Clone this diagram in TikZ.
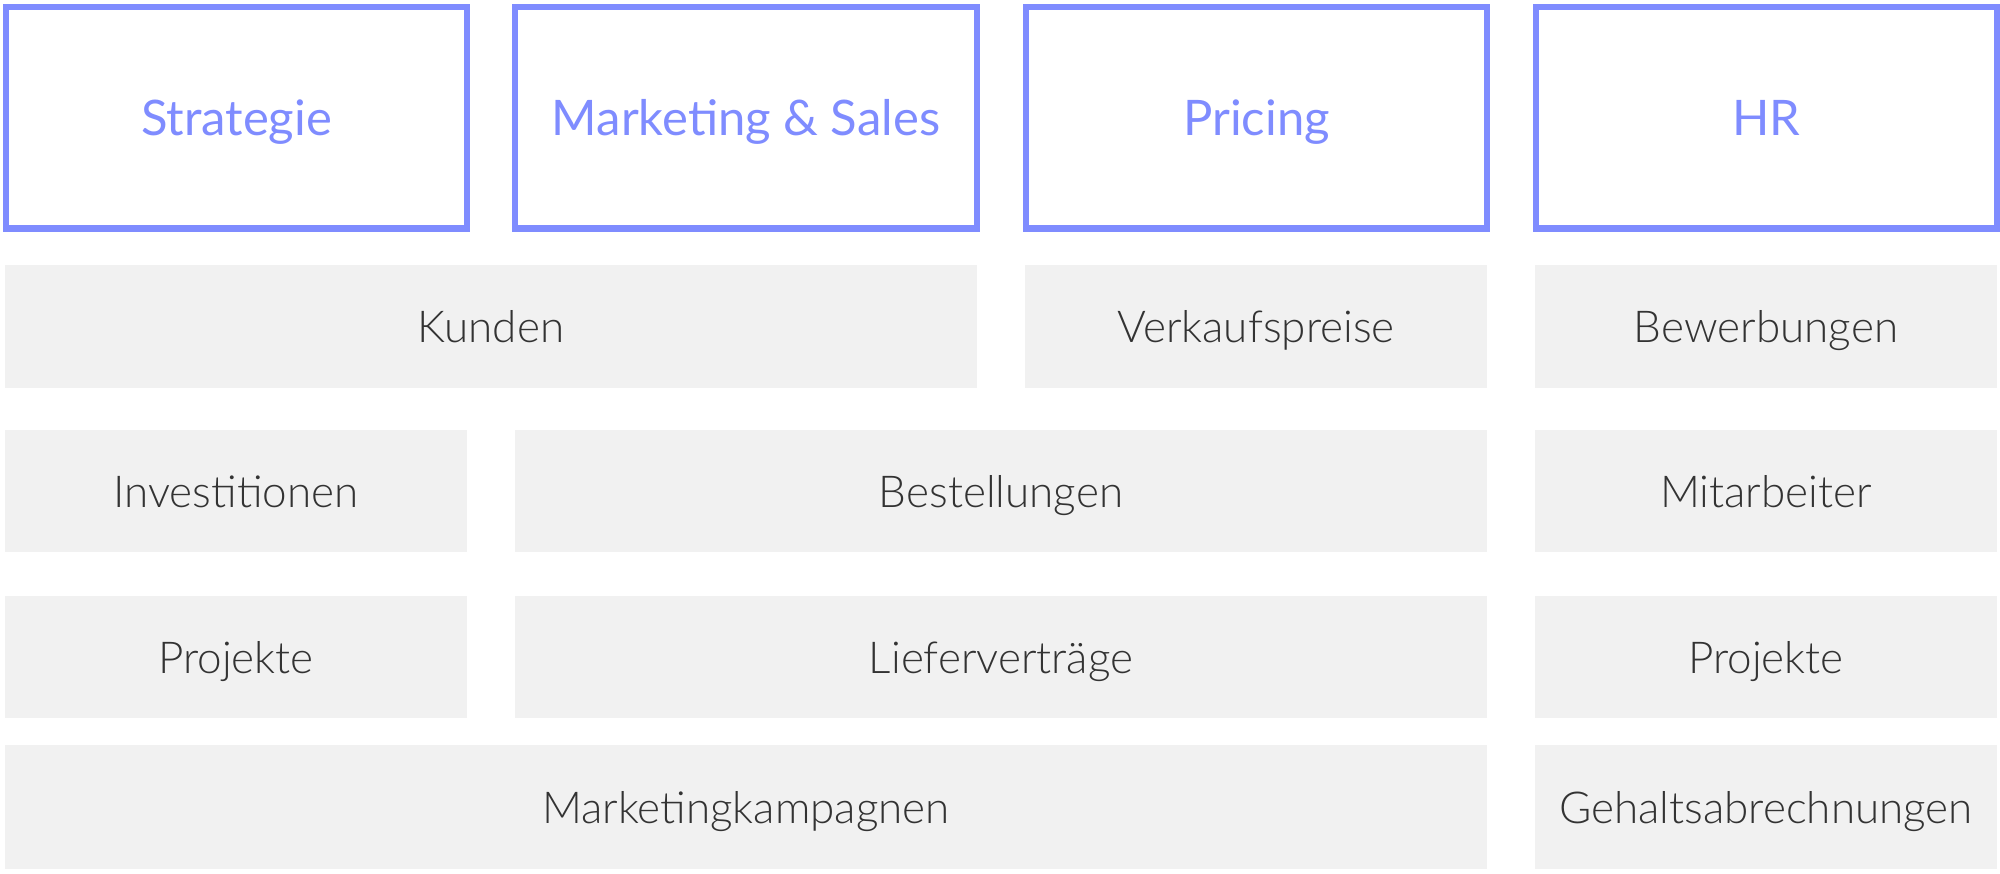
\documentclass[tikz,border=0pt]{standalone}
\usepackage{fontspec}
\IfFontExistsTF{Lato Light}{\newfontfamily\lightfont{Lato Light}}{\newfontfamily\lightfont{Lato}}
\newfontfamily\regfont{Lato}
\definecolor{hdrblue}{RGB}{127,140,255}
\definecolor{cellgray}{RGB}{241,241,241}
\definecolor{celltext}{RGB}{51,51,51}
\tikzset{
  hdr/.style={draw=hdrblue, line width=6.5pt, fill=white, inner sep=0pt, outer sep=0pt,
    text=hdrblue, font=\regfont\fontsize{49}{55}\selectfont, text height=35pt, text depth=0pt},
  cell/.style={fill=cellgray, draw=none, inner sep=0pt, outer sep=0pt,
    text=celltext, font=\lightfont\fontsize{44}{50}\selectfont, text height=32pt, text depth=0pt},
}
\begin{document}
\begin{tikzpicture}[x=1pt,y=-1pt]
\useasboundingbox (0,0) rectangle (2000,873);
% headers
\node[hdr, minimum width=461pt, minimum height=221.5pt] (strategie) at (236.5,117.75) {Strategie};
\node[hdr, minimum width=462pt, minimum height=221.5pt] (marketing) at (746,117.75) {Marketing \& Sales};
\node[hdr, minimum width=461pt, minimum height=221.5pt] (pricing) at (1256.5,117.75) {Pricing};
\node[hdr, minimum width=461pt, minimum height=221.5pt] (hr) at (1766.5,117.75) {HR};
% row 1
\node[cell, minimum width=972pt, minimum height=123pt] (kunden) at (491,326.5) {Kunden};
\node[cell, minimum width=462pt, minimum height=123pt] (verkauf) at (1256,326.5) {Verkaufspreise};
\node[cell, minimum width=462pt, minimum height=123pt] (bewerb) at (1766,326.5) {Bewerbungen};
% row 2
\node[cell, minimum width=462pt, minimum height=122pt] (invest) at (236,491) {Investitionen};
\node[cell, minimum width=972pt, minimum height=122pt] (bestell) at (1001,491) {Bestellungen};
\node[cell, minimum width=462pt, minimum height=122pt] (mitarb) at (1766,491) {Mitarbeiter};
% row 3
\node[cell, minimum width=462pt, minimum height=122pt] (projektea) at (236,657) {Projekte};
\node[cell, minimum width=972pt, minimum height=122pt] (liefer) at (1001,657) {Lieferverträge};
\node[cell, minimum width=462pt, minimum height=122pt] (projekteb) at (1766,657) {Projekte};
% row 4
\node[cell, minimum width=1482pt, minimum height=124pt] (kampagnen) at (746,807) {Marketingkampagnen};
\node[cell, minimum width=462pt, minimum height=124pt] (gehalt) at (1766,807) {Gehaltsabrechnungen};
\end{tikzpicture}
\end{document}
